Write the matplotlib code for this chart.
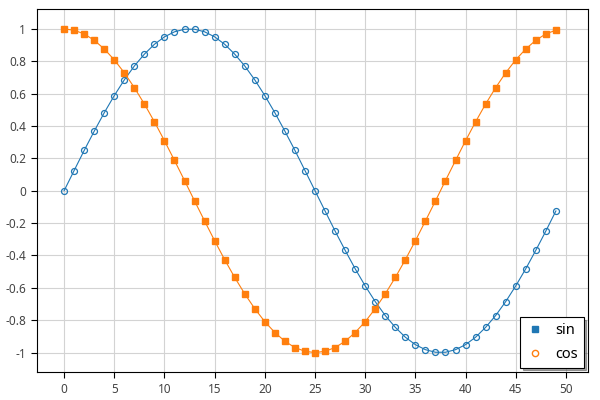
import matplotlib
matplotlib.use('Agg')
import matplotlib.pyplot as plt
from matplotlib.lines import Line2D

plt.rcParams['font.family'] = ['Noto Sans', 'DejaVu Sans']
plt.rcParams['axes.unicode_minus'] = False

# --- Data ---
x = list(range(50))
sin_vals = [0.0, 0.125, 0.249, 0.368, 0.482, 0.588, 0.685, 0.771, 0.844, 0.905,
            0.951, 0.982, 0.998, 0.998, 0.982, 0.951, 0.905, 0.844, 0.771, 0.685,
            0.588, 0.482, 0.368, 0.249, 0.125, 0.0, -0.125, -0.249, -0.368, -0.482,
            -0.588, -0.685, -0.771, -0.844, -0.905, -0.951, -0.982, -0.998, -0.998, -0.982,
            -0.951, -0.905, -0.844, -0.771, -0.685, -0.588, -0.482, -0.368, -0.249, -0.125]
cos_vals = [1.0, 0.992, 0.969, 0.930, 0.876, 0.809, 0.729, 0.637, 0.536, 0.426,
            0.309, 0.187, 0.063, -0.063, -0.187, -0.309, -0.426, -0.536, -0.637, -0.729,
            -0.809, -0.876, -0.930, -0.969, -0.992, -1.0, -0.992, -0.969, -0.930, -0.876,
            -0.809, -0.729, -0.637, -0.536, -0.426, -0.309, -0.187, -0.063, 0.063, 0.187,
            0.309, 0.426, 0.536, 0.637, 0.729, 0.809, 0.876, 0.930, 0.969, 0.992]
y_ticks = [-1, -0.8, -0.6, -0.4, -0.2, 0, 0.2, 0.4, 0.6, 0.8, 1]
y_labels = ['-1', '-0.8', '-0.6', '-0.4', '-0.2', '0', '0.2', '0.4', '0.6', '0.8', '1']

blue = '#1f77b4'
orange = '#ff7f0e'

fig = plt.figure(figsize=(6, 4), dpi=100)
ax = fig.add_axes([37/600, 28/400, 551/600, 363/400])

ax.plot(x, sin_vals, color=blue, lw=0.8, marker='o', ms=4.3,
        mfc='none', mec=blue, mew=0.9, zorder=3)
ax.plot(x, cos_vals, color=orange, lw=0.8, marker='s', ms=4.3,
        mfc=orange, mec=orange, zorder=3)

ax.set_xlim(-2.7, 52.2)
ax.set_ylim(-1.12, 1.123)
ax.set_xticks(range(0, 51, 5))
ax.set_yticks(y_ticks)
ax.set_yticklabels(y_labels)
ax.grid(True, color='#d3d3d3', lw=0.8)
ax.set_axisbelow(True)
ax.tick_params(labelsize=8.5, length=4.5, color='black', labelcolor='#444444')
for s in ax.spines.values():
    s.set_color('black')
    s.set_linewidth(0.8)

# legend shows markers only (filled square for sin, hollow circle for cos)
handles = [
    Line2D([], [], ls='none', marker='s', ms=4, mfc=blue, mec=blue),
    Line2D([], [], ls='none', marker='o', ms=4.5, mfc='none', mec=orange),
]
leg = ax.legend(handles, ['sin', 'cos'], loc='lower right', fontsize=10.5,
                frameon=True, fancybox=False, shadow=True, borderaxespad=0.3,
                handlelength=1.2, labelspacing=0.6)
leg.get_frame().set_edgecolor('black')
leg.get_frame().set_linewidth(0.8)

fig.savefig('out.png', dpi=100)
